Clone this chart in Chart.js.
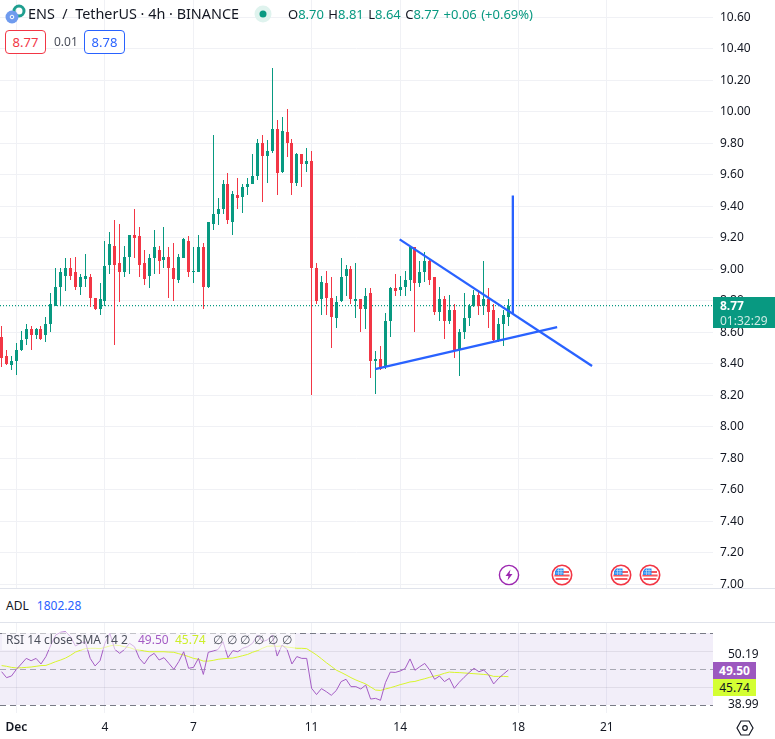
<!DOCTYPE html>
<html>
<head>
<meta charset="utf-8">
<title>ENS / TetherUS</title>
<script src="https://cdn.jsdelivr.net/npm/chart.js@4"></script>
<style>
  html, body { margin: 0; padding: 0; background: #fff; overflow: hidden; }
  body { width: 775px; height: 739px; position: relative; font-family: "Noto Sans", sans-serif; color: #131722; }
  canvas { position: absolute; left: 0; display: block; }
  .t { position: absolute; white-space: nowrap; line-height: 16px; }
  .sep { position: absolute; left: 0; width: 775px; height: 1px; background: #e0e3eb; }
  .box { position: absolute; box-sizing: border-box; height: 24px; width: 41px; border: 1px solid; border-radius: 4px; background: #fff; text-align: center; font-size: 13px; line-height: 22px; }
  .tag { position: absolute; left: 713px; font-size: 12px; text-align: center; }
  svg { position: absolute; overflow: visible; }
  .up { color: #089981; }
</style>
</head>
<body>
<canvas id="priceChart" width="775" height="588" style="top:0"></canvas>
<canvas id="rsiChart" width="775" height="116" style="top:623px"></canvas>
<div class="sep" style="top:588px"></div>
<div class="sep" style="top:622px"></div>

<svg style="left:0;top:0" width="30" height="30">
  <circle cx="19" cy="11" r="5" fill="none" stroke="#1f9e8f" stroke-width="3"/>
  <circle cx="12" cy="17" r="6.5" fill="#6f9bee"/>
  <circle cx="12" cy="17" r="1.8" fill="none" stroke="#fff" stroke-width="1"/>
</svg>
<div class="t" style="left:28px;top:6px;font-size:14.4px">ENS&nbsp; /&nbsp; TetherUS · 4h · BINANCE</div>
<svg style="left:254px;top:5px" width="18" height="18">
  <circle cx="9" cy="9" r="8.5" fill="#dff3ee"/>
  <circle cx="9" cy="9" r="3.5" fill="#089981"/>
</svg>
<div class="t" style="left:288px;top:6px;font-size:13px;word-spacing:1px">O<span class="up">8.70</span> H<span class="up">8.81</span> L<span class="up">8.64</span> C<span class="up">8.77</span> <span class="up">+0.06 (+0.69%)</span></div>
<div class="box" style="left:5px;top:30px;border-color:#f23645;color:#f23645">8.77</div>
<div class="t" style="left:54px;top:34px;font-size:12px;color:#4a4e5a">0.01</div>
<div class="box" style="left:84px;top:30px;border-color:#2962ff;color:#2962ff">8.78</div>

<div class="tag" style="top:297px;width:62px;height:31px;background:#089981;color:#fff;text-align:left">
  <div style="padding-left:7px;line-height:15px;margin-top:1px;font-weight:700">8.77</div>
  <div style="padding-left:7px;line-height:15px;color:#cdeae4">01:32:29</div>
</div>

<div class="t" style="left:6px;top:598px;font-size:12px">ADL <span style="color:#2962ff;margin-left:5px">1802.28</span></div>

<div style="position:absolute;left:2px;top:632px;width:293px;height:18px;background:rgba(255,255,255,.55)"></div>
<div class="t" style="left:6px;top:632px;font-size:12px;color:#4a4e5a">RSI 14 close SMA 14 2</div>
<div class="t" style="left:138px;top:632px;font-size:12px;color:#a45cc4">49.50</div>
<div class="t" style="left:175px;top:632px;font-size:12px;color:#cdee2a">45.74</div>
<div class="t" style="left:213px;top:632px;font-size:12px;word-spacing:0.6px;color:#4a4e5a">∅ ∅ ∅ ∅ ∅ ∅</div>

<div class="tag" style="top:662px;width:43px;height:17px;line-height:17px;background:#9c58bf;color:#fff;font-weight:700">49.50</div>
<div class="tag" style="top:679px;width:43px;height:17px;line-height:17px;background:#d4ff33;color:#131722">45.74</div>

<svg style="left:736px;top:719px" width="18" height="18" viewBox="0 0 18 18">
  <path d="M5 2 H13 L17 9 L13 16 H5 L1 9 Z" fill="none" stroke="#131722" stroke-width="1.2"/>
  <circle cx="9" cy="9" r="2.3" fill="none" stroke="#131722" stroke-width="1.2"/>
</svg>

<div id="events"></div>

<script>
// Candles, four hours apart. The first one sits three candles before Dec 1
const firstCandle = -3;
const candleOpen = [
  8.57, 8.45, 8.39, 8.42, 8.49, 8.56, 8.62, 8.58, 8.62, 8.58,
  8.65, 8.77, 8.89, 8.96, 9.01, 8.98, 8.89, 8.94, 8.95, 8.82,
  8.75, 8.80, 9.03, 9.15, 9.04, 8.98, 9.08, 9.22, 9.21, 9.04,
  8.96, 9.07, 9.12, 9.06, 9.08, 9.01, 8.93, 9.07, 9.18, 8.98,
  8.98, 9.14, 8.89, 9.29, 9.35, 9.38, 9.54, 9.30, 9.47, 9.46,
  9.52, 9.54, 9.59, 9.80, 9.72, 9.75, 9.89, 9.62, 9.87, 9.80,
  9.55, 9.73, 9.67, 9.69, 9.01, 8.81, 8.91, 8.82, 8.69, 8.80,
  8.96, 9.00, 8.80, 8.81, 8.75, 8.85, 8.42, 8.43, 8.38, 8.67,
  8.88, 8.87, 8.89, 8.93, 9.14, 8.91, 8.98, 9.05, 8.95, 8.73,
  8.81, 8.67, 8.74, 8.49, 8.60, 8.69, 8.77, 8.84, 8.77, 8.81,
  8.74, 8.55, 8.65, 8.70
];
const candleHigh = [
  8.64, 8.49, 8.45, 8.53, 8.61, 8.65, 8.64, 8.63, 8.64, 8.70,
  8.85, 9.01, 9.01, 9.07, 9.07, 9.08, 8.97, 9.10, 8.97, 8.82,
  8.91, 9.18, 9.24, 9.31, 9.29, 9.15, 9.22, 9.38, 9.27, 9.12,
  9.10, 9.25, 9.15, 9.27, 9.14, 9.17, 9.10, 9.20, 9.21, 9.14,
  9.22, 9.17, 9.30, 9.85, 9.45, 9.57, 9.61, 9.50, 9.58, 9.54,
  9.58, 9.73, 9.83, 9.85, 9.82, 10.28, 9.95, 9.97, 10.02, 9.83,
  9.74, 9.73, 9.77, 9.75, 9.04, 8.96, 8.99, 8.95, 8.83, 9.07,
  9.03, 9.02, 9.04, 8.81, 8.88, 8.88, 8.48, 8.51, 8.72, 8.89,
  8.97, 8.96, 8.99, 9.15, 9.14, 9.05, 9.11, 9.07, 8.95, 8.89,
  8.83, 8.84, 8.78, 8.62, 8.85, 8.78, 8.87, 8.87, 9.05, 8.88,
  8.78, 8.69, 8.74, 8.81
];
const candleLow = [
  8.38, 8.39, 8.36, 8.33, 8.48, 8.52, 8.49, 8.56, 8.55, 8.54,
  8.60, 8.77, 8.77, 8.86, 8.93, 8.87, 8.84, 8.89, 8.76, 8.74,
  8.71, 8.77, 8.97, 8.52, 8.79, 8.95, 8.97, 9.07, 8.95, 8.90,
  8.88, 8.97, 8.97, 9.01, 8.82, 8.80, 8.91, 9.07, 8.95, 8.91,
  8.98, 8.75, 8.88, 9.25, 9.28, 9.35, 9.29, 9.22, 9.38, 9.36,
  9.47, 9.54, 9.57, 9.43, 9.55, 9.74, 9.47, 9.61, 9.71, 9.47,
  9.53, 9.52, 9.62, 8.20, 8.78, 8.71, 8.71, 8.50, 8.63, 8.79,
  8.83, 8.78, 8.69, 8.60, 8.62, 8.31, 8.21, 8.36, 8.37, 8.57,
  8.83, 8.83, 8.83, 8.86, 8.60, 8.89, 8.92, 8.90, 8.71, 8.67,
  8.56, 8.65, 8.44, 8.32, 8.56, 8.64, 8.76, 8.71, 8.71, 8.63,
  8.54, 8.54, 8.51, 8.64
];
const candleClose = [
  8.44, 8.40, 8.42, 8.49, 8.55, 8.62, 8.58, 8.62, 8.56, 8.65,
  8.78, 8.89, 8.98, 9.01, 8.96, 8.89, 8.95, 8.96, 8.82, 8.75,
  8.81, 9.02, 9.16, 9.03, 8.98, 9.08, 9.22, 9.20, 9.03, 8.94,
  9.07, 9.14, 9.05, 9.08, 9.01, 8.94, 9.08, 9.19, 8.98, 8.99,
  9.14, 8.89, 9.30, 9.35, 9.38, 9.54, 9.31, 9.48, 9.45, 9.52,
  9.54, 9.59, 9.80, 9.72, 9.75, 9.89, 9.61, 9.88, 9.80, 9.55,
  9.73, 9.67, 9.69, 9.01, 8.80, 8.92, 8.82, 8.70, 8.79, 8.95,
  9.00, 8.81, 8.81, 8.75, 8.83, 8.42, 8.43, 8.37, 8.67, 8.88,
  8.86, 8.89, 8.93, 9.14, 8.91, 8.98, 9.05, 8.93, 8.73, 8.81,
  8.67, 8.74, 8.48, 8.60, 8.69, 8.77, 8.84, 8.77, 8.81, 8.73,
  8.55, 8.65, 8.71, 8.77
];

// RSI and its moving average, one reading per candle
const rsiValues = [
  48.5, 45.2, 46.1, 49.8, 52.8, 55.9, 54.6, 55.9, 52.8, 56.9,
  63.3, 68.9, 70.4, 70.7, 68.0, 62.8, 64.3, 65.2, 55.9, 51.7,
  54.6, 64.3, 69.8, 60.9, 58.7, 60.9, 64.3, 62.4, 55.9, 52.8,
  56.9, 58.7, 55.0, 56.3, 53.1, 49.8, 54.1, 59.6, 50.4, 50.9,
  55.9, 47.0, 59.3, 60.0, 60.9, 65.2, 56.3, 60.2, 59.6, 61.5,
  62.4, 64.3, 68.9, 65.2, 66.1, 68.9, 57.2, 63.3, 60.9, 52.8,
  56.9, 55.9, 55.9, 39.3, 35.8, 39.1, 37.4, 35.4, 38.0, 43.0,
  44.3, 40.2, 40.2, 38.9, 41.1, 33.3, 33.7, 32.6, 42.4, 48.3,
  48.1, 48.9, 50.2, 55.6, 49.3, 51.3, 53.1, 49.4, 44.3, 46.1,
  43.0, 44.8, 39.3, 42.6, 45.4, 48.0, 50.4, 48.5, 49.4, 46.7,
  41.7, 44.8, 47.2, 49.5
];
const rsiSma = [
  51.9, 51.5, 50.9, 50.6, 50.7, 50.9, 51.1, 51.5, 51.9, 52.0,
  53.0, 54.1, 55.0, 56.1, 57.6, 59.4, 60.4, 61.3, 61.5, 61.5,
  61.3, 62.0, 62.8, 63.3, 63.0, 62.4, 61.9, 60.9, 60.6, 60.0,
  59.6, 59.6, 59.6, 59.6, 59.4, 59.3, 58.5, 57.8, 56.9, 55.9,
  55.4, 54.4, 54.4, 54.8, 55.4, 55.7, 55.9, 56.1, 56.7, 57.4,
  58.1, 59.3, 60.2, 61.5, 62.6, 62.8, 62.6, 62.8, 62.2, 61.9,
  61.5, 61.5, 61.3, 59.6, 57.8, 55.7, 53.5, 51.5, 49.4, 48.1,
  46.7, 45.2, 43.9, 42.8, 41.7, 40.0, 38.3, 38.1, 38.9, 39.6,
  40.4, 41.3, 42.0, 42.8, 43.1, 43.9, 44.6, 45.4, 46.1, 46.7,
  47.6, 48.3, 48.1, 48.0, 47.8, 47.6, 47.4, 47.2, 47.0, 46.7,
  45.9, 45.9, 45.9, 45.74
];

// Axis ticks
const priceTicks = [10.6, 10.4, 10.2, 10.0, 9.8, 9.6, 9.4, 9.2, 9.0, 8.8, 8.6, 8.4, 8.2, 8.0, 7.8, 7.6, 7.4, 7.2, 7.0];
const dayTicks = [0, 18, 36, 60, 78, 102, 120];
const dayLabels = ['Dec', '4', '7', '11', '14', '18', '21'];
const rsiTicks = [58, 30];
const rsiTickLabels = ['50.19', '38.99'];
const rsiDashLevels = [70, 50, 30];
const rsiGridLevels = [60, 40];

// Hand-drawn lines on the price pane
const lastPrice = 8.77;
const upperLineX = [77.9, 117];
const upperLineY = [9.19, 8.386];
const lowerLineX = [72.9, 109.9];
const lowerLineY = [8.367, 8.633];
const spikeX = [100.9, 100.9];
const spikeY = [9.469, 8.72];

// Event markers
const flagEventX = [562, 621, 650];
const lightningEventX = [508.5];

const GREEN = '#089981';
const RED = '#F23645';
const BLUE = '#2962FF';
const GRID = '#F0F1F5';
const AXIS_WIDTH = 62;
const X_MIN = -3.33;
const X_MAX = 141.58;
const FONT = { family: '"Noto Sans", sans-serif', size: 12 };

Chart.defaults.font.family = FONT.family;
Chart.defaults.font.size = FONT.size;
Chart.defaults.color = '#131722';
Chart.defaults.animation = false;
Chart.defaults.responsive = false;

const candleX = candleOpen.map((_, i) => firstCandle + i);
const candleColors = candleOpen.map((o, i) => (candleClose[i] >= o ? GREEN : RED));

function toPoints(xs, ys) {
  return xs.map((x, i) => ({ x: x, y: ys[i] }));
}

function drawnLine(xs, ys) {
  return {
    type: 'line',
    data: toPoints(xs, ys),
    borderColor: BLUE,
    borderWidth: 2.3,
    pointRadius: 0,
    order: 0,
  };
}

// Chart.js leaves room for edge labels, here the panes run edge to edge
function dropPadding(axis) {
  axis.paddingTop = 0;
  axis.paddingBottom = 0;
  axis.paddingLeft = 0;
  axis.paddingRight = 0;
}

function dayAxis(showLabels) {
  return {
    type: 'linear',
    offset: false,
    min: X_MIN,
    max: X_MAX,
    afterBuildTicks: (axis) => { axis.ticks = dayTicks.map((v) => ({ value: v })); },
    afterFit: (axis) => {
      axis.height = showLabels ? 26 : 0;
      dropPadding(axis);
    },
    grid: { color: GRID, drawTicks: false, offset: false },
    border: { display: false },
    ticks: {
      display: showLabels,
      autoSkip: false,
      maxRotation: 0,
      padding: 7,
      callback: (value) => dayLabels[dayTicks.indexOf(value)],
      font: (c) => ({ weight: c.tick && c.tick.value === 0 ? '600' : '400' }),
    },
  };
}

// Snap the scale positions of the candles to whole pixels so they stay sharp
const crispCandles = {
  id: 'crispCandles',
  afterDatasetsUpdate(chart) {
    chart.getSortedVisibleDatasetMetas().forEach((meta) => {
      if (meta.type !== 'bar') return;
      meta.data.forEach((bar) => {
        bar.x = Math.floor(bar.x) + 0.5;
        const top = Math.round(Math.min(bar.y, bar.base));
        const bottom = Math.max(Math.round(Math.max(bar.y, bar.base)), top + 1);
        bar.y = top;
        bar.base = bottom;
        bar.height = bottom - top;
      });
    });
  },
};

new Chart(document.getElementById('priceChart'), {
  type: 'bar',
  data: {
    datasets: [
      drawnLine(upperLineX, upperLineY),
      drawnLine(lowerLineX, lowerLineY),
      drawnLine(spikeX, spikeY),
      {
        label: 'bodies',
        data: candleX.map((x, i) => ({ x: x, y: [candleOpen[i], candleClose[i]] })),
        backgroundColor: candleColors,
        barThickness: 3,
        minBarLength: 1,
        inflateAmount: 0,
        grouped: false,
        order: 1,
      },
      {
        label: 'wicks',
        data: candleX.map((x, i) => ({ x: x, y: [candleLow[i], candleHigh[i]] })),
        backgroundColor: candleColors,
        barThickness: 1,
        inflateAmount: 0,
        grouped: false,
        order: 2,
      },
      {
        type: 'line',
        data: toPoints([X_MIN, X_MAX], [lastPrice, lastPrice]),
        borderColor: GREEN,
        borderWidth: 1.2,
        borderDash: [1, 2],
        pointRadius: 0,
        order: 3,
      },
    ],
  },
  options: {
    layout: { padding: 0 },
    plugins: { legend: { display: false }, tooltip: { enabled: false } },
    scales: {
      x: dayAxis(false),
      y: {
        position: 'right',
        min: 6.9765,
        max: 10.71,
        afterBuildTicks: (axis) => { axis.ticks = priceTicks.map((v) => ({ value: v })); },
        afterFit: (axis) => {
          axis.width = AXIS_WIDTH;
          dropPadding(axis);
        },
        grid: { color: GRID, drawTicks: false },
        border: { display: false },
        ticks: { autoSkip: false, padding: 7, callback: (v) => v.toFixed(2) },
      },
    },
  },
  plugins: [crispCandles],
});

// Band and level lines behind the RSI
const rsiBackdrop = {
  id: 'rsiBackdrop',
  beforeDatasetsDraw(chart) {
    const { ctx, chartArea, scales } = chart;
    const y = scales.y;
    ctx.save();
    ctx.fillStyle = 'rgba(126, 87, 194, 0.1)';
    ctx.fillRect(chartArea.left, y.getPixelForValue(70), chartArea.width, y.getPixelForValue(30) - y.getPixelForValue(70));
    ctx.lineWidth = 1;
    ctx.strokeStyle = 'rgba(120, 123, 134, 0.15)';
    rsiGridLevels.forEach((level) => {
      const py = Math.round(y.getPixelForValue(level)) + 0.5;
      ctx.beginPath();
      ctx.moveTo(chartArea.left, py);
      ctx.lineTo(chartArea.right, py);
      ctx.stroke();
    });
    ctx.setLineDash([6, 4]);
    rsiDashLevels.forEach((level) => {
      const py = Math.round(y.getPixelForValue(level)) + 0.5;
      ctx.strokeStyle = level === 50 ? 'rgba(120, 123, 134, 0.6)' : '#787B86';
      ctx.beginPath();
      ctx.moveTo(chartArea.left, py);
      ctx.lineTo(chartArea.right, py);
      ctx.stroke();
    });
    ctx.restore();
  },
};

new Chart(document.getElementById('rsiChart'), {
  type: 'line',
  data: {
    datasets: [
      { data: toPoints(candleX, rsiValues), borderColor: '#A45CC4', borderWidth: 1, pointRadius: 0, order: 0 },
      { data: toPoints(candleX, rsiSma), borderColor: '#D8F52C', borderWidth: 1, pointRadius: 0, order: 1 },
    ],
  },
  options: {
    layout: { padding: 0 },
    plugins: { legend: { display: false }, tooltip: { enabled: false } },
    scales: {
      x: dayAxis(true),
      y: {
        position: 'right',
        min: 25.56,
        max: 75.56,
        afterBuildTicks: (axis) => { axis.ticks = rsiTicks.map((v) => ({ value: v })); },
        afterFit: (axis) => {
          axis.width = AXIS_WIDTH;
          dropPadding(axis);
        },
        grid: { display: false },
        border: { display: false },
        ticks: {
          autoSkip: false,
          padding: 7,
          callback: (v) => rsiTickLabels[rsiTicks.indexOf(v)],
        },
      },
    },
  },
  plugins: [rsiBackdrop],
});

// Economic calendar markers along the bottom of the price pane
function flagIcon(cx) {
  return `<svg style="left:${cx - 11}px;top:564px" width="22" height="22" viewBox="0 0 22 22">
    <circle cx="11" cy="11" r="9.7" fill="#fff" stroke="#f23645" stroke-width="1.6"/>
    <path d="M4 8 H18 M3.4 11.5 H18.6 M4.6 15 H17.4" stroke="#f4565d" stroke-width="2"/>
    <path d="M6 4.6 H12.5 V11 H4 V7.5 Z" fill="#2e8ff0"/>
    <path d="M6 6.5 H12 M5 9 H12 M7.5 5 V11 M10 5 V11" stroke="#cfe4fb" stroke-width="0.6"/>
  </svg>`;
}
function lightningIcon(cx) {
  return `<svg style="left:${cx - 11}px;top:564px" width="22" height="22" viewBox="0 0 22 22">
    <circle cx="11" cy="11" r="9.6" fill="#fff" stroke="#9c27b0" stroke-width="1.4"/>
    <path d="M12.5 5.5 L7.5 12 H10.5 L9.5 16.5 L14.5 10 H11.5 Z" fill="#9c27b0"/>
  </svg>`;
}
document.getElementById('events').innerHTML =
  lightningEventX.map(lightningIcon).join('') + flagEventX.map(flagIcon).join('');
</script>
</body>
</html>
